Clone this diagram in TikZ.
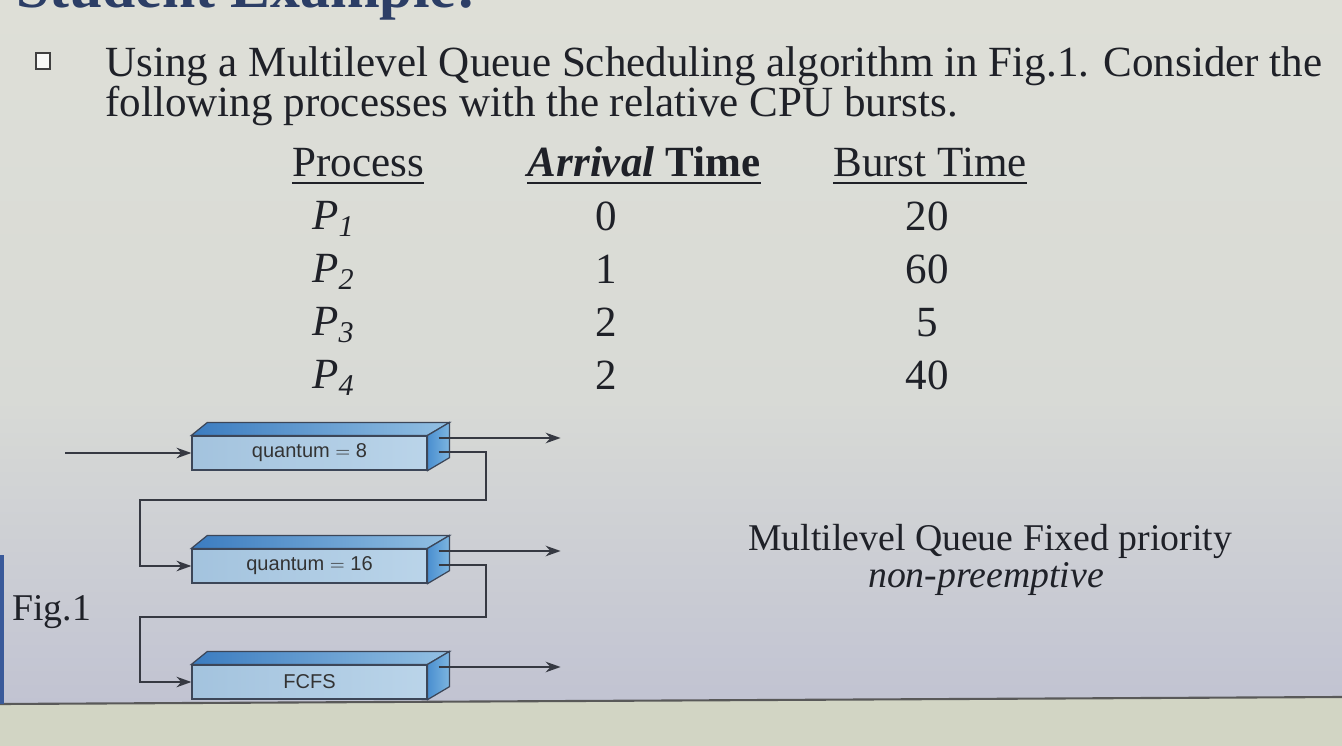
\documentclass[tikz,border=0pt]{standalone}
\usepackage{fontspec}
\setmainfont{Liberation Serif}
\setsansfont{Liberation Sans}
\usetikzlibrary{arrows.meta}
\definecolor{ink}{HTML}{1F2128}
\definecolor{titleblue}{HTML}{2C3E66}
\definecolor{edge}{HTML}{3C4658}
\definecolor{wire}{HTML}{363942}
\definecolor{bgA}{HTML}{DEDFD7}
\definecolor{bgB}{HTML}{D8DAD6}
\definecolor{bgC}{HTML}{C1C3D2}
\definecolor{strip}{HTML}{D2D5C4}
\definecolor{edgeblue}{HTML}{3A5A9A}
\definecolor{bluefrontA}{HTML}{A3C3DE}
\definecolor{bluefrontB}{HTML}{BAD4E9}
\definecolor{bluetopA}{HTML}{3B7CC0}
\definecolor{bluetopB}{HTML}{93C0E3}
\definecolor{bluesideA}{HTML}{4A8FD0}
\definecolor{bluesideB}{HTML}{7DB5E0}
\begin{document}
\begin{tikzpicture}[x=0.02cm,y=-0.02cm,
  txt/.style={inner sep=0pt, text=ink, font=\fontsize{24.5pt}{29pt}\selectfont},
  note/.style={inner sep=0pt, text=ink, font=\fontsize{21.5pt}{26pt}\selectfont},
  ul/.style={draw=ink, line width=1.1pt},
  front/.style={draw=edge, line width=0.7pt, minimum width=4.7cm, minimum height=0.68cm,
    inner sep=0pt, left color=bluefrontA, right color=bluefrontB,
    text=black!80, font=\sffamily\fontsize{11.4pt}{13pt}\selectfont},
  topface/.style={draw=edge, line width=0.7pt, left color=bluetopA, right color=bluetopB},
  sideface/.style={draw=edge, line width=0.7pt, left color=bluesideA, right color=bluesideB},
  arr/.style={draw=wire, line width=1.1pt, -{Stealth[length=8.5pt,width=6pt]}},
]
\useasboundingbox (0,0) rectangle (1342,746);
\clip (0,0) rectangle (1342,746);
% background
\shade[top color=bgA, bottom color=bgB] (0,0) rectangle (1342,400);
\shade[top color=bgB, bottom color=bgC] (0,399) rectangle (1342,704);
\fill[strip] (0,704) -- (1342,697) -- (1342,746) -- (0,746) -- cycle;
\draw[black!65, line width=1.2pt] (0,704) -- (1342,697);
\fill[edgeblue] (0,555) rectangle (4,704);

% cut-off title
\node[inner sep=0pt, anchor=base west, text=titleblue,
  font=\bfseries\fontsize{34pt}{40pt}\selectfont] (title) at (16,8) {Student Example:};

% bullet text
\node[draw=black!75, line width=0.8pt, fill=white!80!bgA, minimum width=0.28cm, minimum height=0.32cm, inner sep=0pt] (bul) at (43,61) {};
\node[txt, anchor=base west] (l1) at (105,77) {Using a Multilevel Queue Scheduling algorithm in Fig.1. Consider the};
\node[txt, anchor=base west] (l2) at (105,117) {following processes with the relative CPU bursts.};

% table headers
\node[txt, anchor=base] (hproc) at (358,177) {Process};
\node[txt, anchor=base] (harr) at (644,177) {\textbf{\textit{Arrival} Time}};
\node[txt, anchor=base] (hbur) at (930,177) {Burst Time};
\draw[ul] ([shift={(0,6)}]hproc.base west) -- ([shift={(0,6)}]hproc.base east);
\draw[ul] ([shift={(0,6)}]harr.base west) -- ([shift={(0,6)}]harr.base east);
\draw[ul] ([shift={(0,6)}]hbur.base west) -- ([shift={(0,6)}]hbur.base east);

% rows
\node[txt, anchor=base west] (p1) at (312,230) {\textit{P}\textsubscript{\textit{1}}};
\node[txt, anchor=base west] (p2) at (312,283) {\textit{P}\textsubscript{\textit{2}}};
\node[txt, anchor=base west] (p3) at (312,336) {\textit{P}\textsubscript{\textit{3}}};
\node[txt, anchor=base west] (p4) at (312,389) {\textit{P}\textsubscript{\textit{4}}};
\node[txt, anchor=base] (a1) at (606,231) {0};
\node[txt, anchor=base] (a2) at (606,284) {1};
\node[txt, anchor=base] (a3) at (606,337) {2};
\node[txt, anchor=base] (a4) at (606,390) {2};
\node[txt, anchor=base] (b1) at (927,231) {20};
\node[txt, anchor=base] (b2) at (927,284) {60};
\node[txt, anchor=base] (b3) at (927,337) {5};
\node[txt, anchor=base] (b4) at (927,390) {40};

% queues
\foreach \n/\yy/\lab in {1/453/{quantum $=$ 8}, 2/566/{quantum $=$ 16}, 3/682/{FCFS}}{
  \node[front] (q\n) at (309.5,\yy) {\lab};
  \draw[topface] (q\n.north west) -- ([shift={(16,-13)}]q\n.north west) -- ([shift={(22,-13)}]q\n.north east) -- (q\n.north east) -- cycle;
  \draw[sideface] (q\n.north east) -- ([shift={(22,-13)}]q\n.north east) -- ([shift={(22,-13)}]q\n.south east) -- (q\n.south east) -- cycle;
  \coordinate (o\n) at ([shift={(11,-15)}]q\n.east);
  \coordinate (f\n) at ([shift={(11,-1)}]q\n.east);
  \coordinate (e\n) at ([shift={(133,-15)}]q\n.east);
  \draw[arr] (o\n) -- (e\n);
}
\coordinate (in) at (65,453);
\draw[arr] (in) -- (q1.west);
\coordinate (t1) at (486,500);
\coordinate (s1) at (140,500);
\coordinate (t2) at (486,617);
\coordinate (s2) at (140,617);
\draw[arr] (f1) -| (t1) -- (s1) |- (q2.west);
\draw[arr] (f2) -| (t2) -- (s2) |- (q3.west);

% side labels
\node[note, anchor=base west] (fig) at (12,620) {Fig.1};
\node[note, anchor=base] (mlq) at (990,550) {Multilevel Queue Fixed priority};
\node[note, anchor=base] (npe) at (986,587) {\textit{non-preemptive}};
\end{tikzpicture}
\end{document}
